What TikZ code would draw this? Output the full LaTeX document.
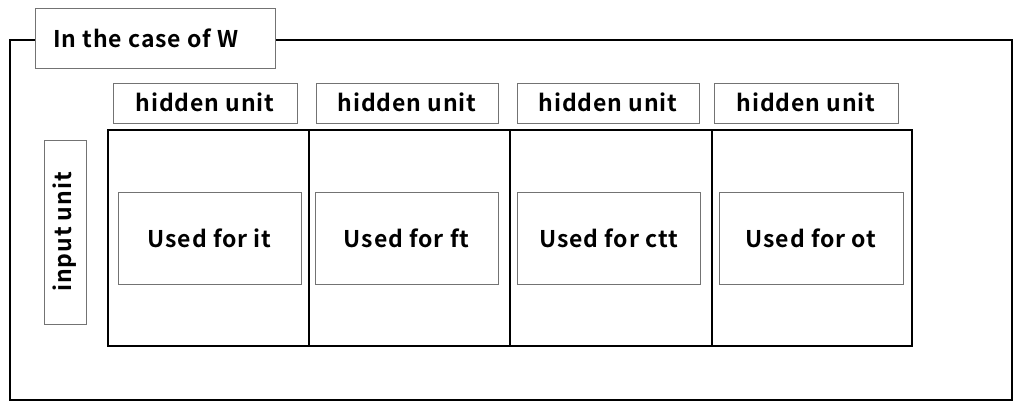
\documentclass[tikz,border=0pt]{standalone}
\usepackage{fontspec}
\setmainfont{Noto Sans CJK JP}[BoldFont={Noto Sans CJK JP Bold},LetterSpace=4]
\begin{document}
\begin{tikzpicture}[x=1pt,y=-1pt,
  gbox/.style={draw=black!55,line width=0.9pt,fill=white},
  lbl/.style={font=\bfseries\fontsize{23}{26}\selectfont,inner sep=0pt}]
\useasboundingbox (0,0) rectangle (1024,409);
\fill[white] (0,0) rectangle (1024,409);
\draw[line width=1.2pt] (10,40) rectangle (1012,400);
\path[gbox] (35,8) rectangle (275,68);
\node[lbl,anchor=west] (title) at (53,38) {In the case of W};
\foreach \a/\b/\n in {113/297/h1,316/498/h2,517/699/h3,714/898/h4}{
  \path[gbox] (\a,83) rectangle (\b,123);
  \node[lbl] (\n) at ({(\a+\b)/2},102) {hidden unit};
}
\draw[line width=1.2pt] (108,130) rectangle (912,346);
\foreach \x in {309,510,712}{\draw[line width=1.2pt] (\x,130) -- (\x,346);}
\foreach \a/\b/\t/\n in {118/301/it/u1,315/498/ft/u2,517/700/ctt/u3,719/903/ot/u4}{
  \path[gbox] (\a,192) rectangle (\b,284);
  \node[lbl] (\n) at ({(\a+\b)/2},238) {Used for \t};
}
\path[gbox] (44,140) rectangle (86,324);
\node[lbl,rotate=90] (in) at (65,232) {input unit};
\end{tikzpicture}
\end{document}
